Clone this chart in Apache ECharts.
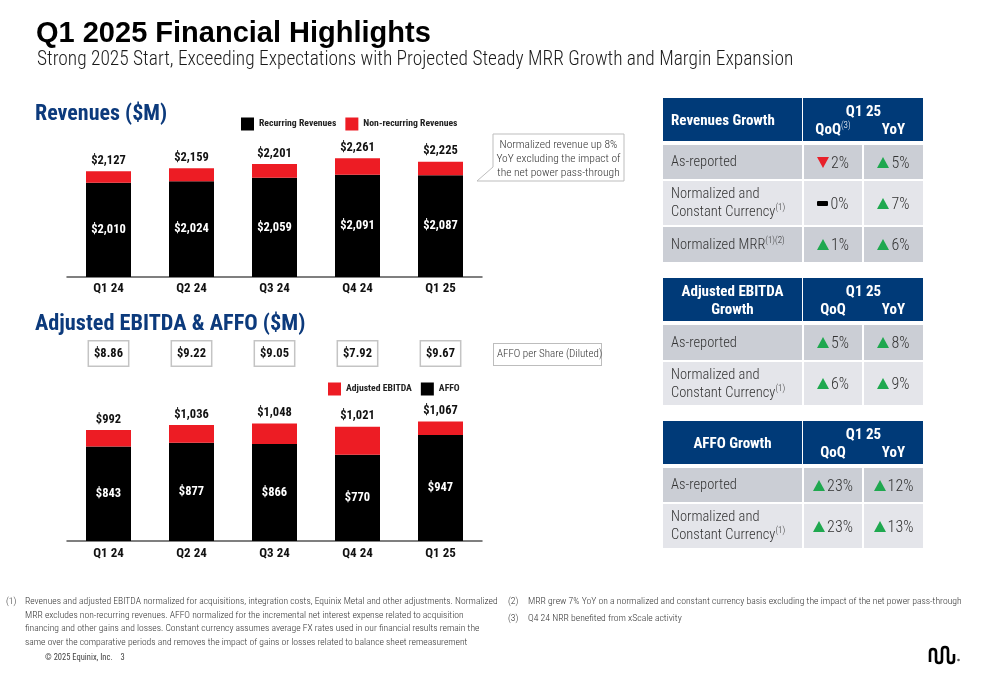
<!DOCTYPE html>
<html>
<head>
<meta charset="utf-8">
<script src="https://cdn.jsdelivr.net/npm/echarts@6/dist/echarts.min.js"></script>
<style>
  body { margin: 0; background: #fff; }
  .page { position: relative; width: 1000px; height: 685px; overflow: hidden; font-family: "Roboto Condensed", "DejaVu Sans Condensed", sans-serif; color: #333; }
  #chart { position: absolute; left: 0; top: 0; width: 1000px; height: 685px; }
  .txt { position: absolute; white-space: nowrap; }
  .title { left: 36px; top: 15px; font-family: "Liberation Sans", Arial, sans-serif; font-weight: bold; font-size: 29px; line-height: 34px; color: #000; }
  .subtitle { left: 37px; top: 48px; font-size: 19.4px; line-height: 22px; color: #1a1a1a; font-weight: 300; }
  .section { left: 35px; font-weight: bold; font-size: 22px; line-height: 26px; color: #0c3a7c; }
  .cell { position: absolute; box-sizing: border-box; }
  .head { background: #003a78; color: #fff; font-weight: bold; font-size: 15px; }
  .dark { background: #cbced5; }
  .light { background: #e4e5ea; }
  .lbl { font-size: 14.5px; line-height: 18px; color: #333; padding-left: 8px; display: flex; flex-direction: column; justify-content: center; font-weight: 300; }
  .val { font-size: 16px; color: #333; display: flex; align-items: center; justify-content: center; font-weight: 300; }
  sup { font-size: 9px; line-height: 0; vertical-align: 6px; }
  .up { display: inline-block; width: 0; height: 0; border-left: 6px solid transparent; border-right: 6px solid transparent; border-bottom: 11px solid #1fa84f; margin-right: 2px; }
  .down { display: inline-block; width: 0; height: 0; border-left: 6px solid transparent; border-right: 6px solid transparent; border-top: 11px solid #e8202a; margin-right: 2px; }
  .flat { display: inline-block; width: 11px; height: 5px; background: #000; margin-right: 2px; border-radius: 1px; }
  .note { font-size: 9.7px; line-height: 13.5px; color: #333; font-weight: 300; }
  .callout { position: absolute; left: 493px; top: 134px; width: 131px; height: 47px; font-size: 11.5px; line-height: 14px; text-align: center; color: #333; display: flex; align-items: center; justify-content: center; font-weight: 300; }
</style>
</head>
<body>
<div class="page" id="page">
  <div id="chart"></div>
  <div class="txt title">Q1 2025 Financial Highlights</div>
  <div class="txt subtitle">Strong 2025 Start, Exceeding Expectations with Projected Steady MRR Growth and Margin Expansion</div>
  <div class="txt section" style="top:100px">Revenues ($M)</div>
  <div class="txt section" style="top:309px;font-size:22.3px">Adjusted EBITDA &amp; AFFO ($M)</div>

  <svg style="position:absolute;left:0;top:0" width="1000" height="685">
    <path d="M493,134 H624 V181 H477 L493,167 Z" fill="#fff" stroke="#bdbdbd" stroke-width="1"/>
    <rect x="493.5" y="343.5" width="108" height="22" fill="#fff" stroke="#bdbdbd" stroke-width="1"/>
    <path d="M930,662 V652 Q930,649 933,649 Q936,649 936,652 V660 Q936,663 939,663 Q942,663 942,660 V650 Q942,647 945,647 Q948,647 948,650 V660 Q948,663 951,663 Q954,663 954,660 V654"
          fill="none" stroke="#000" stroke-width="2.6"/>
    <circle cx="958.5" cy="660" r="1.3" fill="#555"/>
  </svg>
  <div class="callout">Normalized revenue up 8%<br>YoY excluding the impact of<br>the net power pass-through</div>
  <div class="txt" style="left:497px;top:347px;font-size:11px;line-height:14px;color:#333;font-weight:300">AFFO per Share (Diluted)</div>

  <div class="txt note" style="left:6px;top:594px">(1)</div>
  <div class="txt note" style="left:25px;top:594px;font-size:9.6px">Revenues and adjusted EBITDA normalized for acquisitions, integration costs, Equinix Metal and other adjustments. Normalized<br>MRR excludes non-recurring revenues. AFFO normalized for the incremental net interest expense related to acquisition<br>financing and other gains and losses. Constant currency assumes average FX rates used in our financial results remain the<br>same over the comparative periods and removes the impact of gains or losses related to balance sheet remeasurement</div>
  <div class="txt note" style="left:508px;top:594px">(2)</div>
  <div class="txt note" style="left:528px;top:594px">MRR grew 7% YoY on a normalized and constant currency basis excluding the impact of the net power pass-through</div>
  <div class="txt note" style="left:508px;top:611px">(3)</div>
  <div class="txt note" style="left:528px;top:611px">Q4 24 NRR benefited from xScale activity</div>
  <div class="txt" style="left:45px;top:652px;font-size:8.5px;line-height:11px;color:#444">© 2025 Equinix, Inc.&nbsp;&nbsp;&nbsp;&nbsp;3</div>
</div>

<script>
// chart data
const categories = ['Q1 24', 'Q2 24', 'Q3 24', 'Q4 24', 'Q1 25'];
const revenueTotal = [2127, 2159, 2201, 2261, 2225];
const recurringRevenue = [2010, 2024, 2059, 2091, 2087];
const adjustedEbitda = [992, 1036, 1048, 1021, 1067];
const affo = [843, 877, 866, 770, 947];
const affoPerShare = ['$8.86', '$9.22', '$9.05', '$7.92', '$9.67'];

// growth tables
const revenueGrowthRows = ['As-reported', 'Normalized and|Constant Currency(1)', 'Normalized MRR (1)(2)'];
const revenueQoQ = ['-2%', '0%', '+1%'];
const revenueYoY = ['+5%', '+7%', '+6%'];
const ebitdaGrowthRows = ['As-reported', 'Normalized and|Constant Currency(1)'];
const ebitdaQoQ = ['+5%', '+6%'];
const ebitdaYoY = ['+8%', '+9%'];
const affoGrowthRows = ['As-reported', 'Normalized and|Constant Currency(1)'];
const affoQoQ = ['+23%', '+23%'];
const affoYoY = ['+12%', '+13%'];

const FONT = '"Roboto Condensed", "DejaVu Sans Condensed", sans-serif';
const RED = '#ed1c24';

const nonRecurring = revenueTotal.map((t, i) => t - recurringRevenue[i]);
const ebitdaAboveAffo = adjustedEbitda.map((t, i) => t - affo[i]);
const money = v => '$' + v.toLocaleString('en-US');

const chart = echarts.init(document.getElementById('chart'), null, { renderer: 'canvas' });

const catAxis = (grid, margin) => ({
  type: 'category', gridIndex: grid, data: categories,
  axisLine: { lineStyle: { color: '#555', width: 1.5 } },
  axisTick: { show: false },
  axisLabel: { fontFamily: FONT, fontWeight: 'bold', fontSize: 13, color: '#111', margin: margin }
});

const legendStyle = {
  icon: 'rect', itemWidth: 13, itemHeight: 13, itemGap: 9, padding: 0,
  textStyle: { fontFamily: FONT, fontWeight: 'bold', fontSize: 9.7, color: '#222' }
};

const labelFont = { fontFamily: FONT, fontWeight: 'bold', fontSize: 12.5 };

const option = {
  animation: false,
  textStyle: { fontFamily: FONT },
  grid: [
    { left: 67, top: 154.5, width: 415, height: 122.5 },
    { left: 67, top: 406.6, width: 415, height: 134.4 }
  ],
  legend: [
    Object.assign({ data: ['Recurring Revenues', 'Non-recurring Revenues'], left: 241, top: 117.5 }, legendStyle),
    Object.assign({ data: ['Adjusted EBITDA', 'AFFO'], left: 328, top: 382.5 }, legendStyle)
  ],
  xAxis: [
    catAxis(0, 5),
    catAxis(1, 6),
    {
      type: 'category', gridIndex: 1, position: 'top', data: affoPerShare,
      axisLine: { show: false }, axisTick: { show: false },
      axisLabel: Object.assign({
        color: '#111', margin: 41, lineHeight: 15,
        padding: [5, 5, 4, 5], borderColor: '#c4c4c4', borderWidth: 1.5, backgroundColor: '#fff'
      }, labelFont)
    }
  ],
  yAxis: [
    { type: 'value', gridIndex: 0, min: 1037, max: 2300, show: false },
    { type: 'value', gridIndex: 1, min: 0, max: 1200, show: false }
  ],
  series: [
    {
      name: 'Recurring Revenues', type: 'bar', stack: 'rev', xAxisIndex: 0, yAxisIndex: 0,
      barWidth: 45, data: recurringRevenue, itemStyle: { color: '#000' },
      label: Object.assign({ show: true, position: 'inside', color: '#fff', formatter: p => money(p.value) }, labelFont)
    },
    {
      name: 'Non-recurring Revenues', type: 'bar', stack: 'rev', xAxisIndex: 0, yAxisIndex: 0,
      barWidth: 45, data: nonRecurring, itemStyle: { color: RED },
      label: Object.assign({ show: true, position: 'top', distance: 4, color: '#111', formatter: p => money(revenueTotal[p.dataIndex]) }, labelFont)
    },
    {
      name: 'AFFO', type: 'bar', stack: 'eb', xAxisIndex: 1, yAxisIndex: 1,
      barWidth: 45, data: affo, itemStyle: { color: '#000' },
      label: Object.assign({ show: true, position: 'inside', color: '#fff', formatter: p => money(p.value) }, labelFont)
    },
    {
      name: 'Adjusted EBITDA', type: 'bar', stack: 'eb', xAxisIndex: 1, yAxisIndex: 1,
      barWidth: 45, data: ebitdaAboveAffo, itemStyle: { color: RED },
      label: Object.assign({ show: true, position: 'top', distance: 4, color: '#111', formatter: p => money(adjustedEbitda[p.dataIndex]) }, labelFont)
    }
  ]
};
chart.setOption(option);

// tables on the right, built from the arrays above
const page = document.getElementById('page');
function addCell(cls, x, y, w, h, html) {
  const d = document.createElement('div');
  d.className = 'cell ' + cls;
  d.style.left = x + 'px'; d.style.top = y + 'px';
  d.style.width = w + 'px'; d.style.height = h + 'px';
  d.innerHTML = html || '';
  page.appendChild(d);
  return d;
}
function supify(s) {
  return s.replace(/ ?\((\d)\)/g, m => '<sup>' + m.trim() + '</sup>');
}
function valueHtml(v) {
  const sign = v[0];
  const num = v.replace(/^[+-]/, '');
  const mark = sign === '+' ? '<span class="up"></span>' : sign === '-' ? '<span class="down"></span>' : '<span class="flat"></span>';
  return mark + num;
}
function drawTable(t) {
  const x0 = 663, xa = 804, xb = 864, x1 = 923;
  addCell('head', x0, t.top, x1 - x0, 43);
  const left = addCell('head', x0, t.top, 140, 43,
    '<div style="position:absolute;left:0;right:0;top:0;bottom:0;display:flex;align-items:center;' +
    (t.center ? 'justify-content:center;text-align:center;' : 'padding-left:8px;') +
    'line-height:18px">' + t.title + '</div>');
  left.style.borderRight = '1px solid #fff';
  addCell('head', xa, t.top + 4, x1 - xa, 18, '<div style="text-align:center;line-height:18px">Q1 25</div>');
  addCell('head', xa, t.top + 22, 58, 18, '<div style="text-align:center;line-height:18px">QoQ' + (t.qoqSup ? '<sup style="font-weight:300">' + t.qoqSup + '</sup>' : '') + '</div>');
  addCell('head', xb, t.top + 22, 59, 18, '<div style="text-align:center;line-height:18px">YoY</div>');
  let y = t.top + 47;
  t.rows.forEach((r, i) => {
    const rh = t.heights[i];
    const cls = i % 2 === 0 ? 'dark' : 'light';
    addCell(cls + ' lbl', x0, y, 139, rh, r.split('|').map(s => '<div>' + supify(s) + '</div>').join(''));
    addCell(cls + ' val', xa, y, 58, rh, valueHtml(t.qoq[i]));
    addCell(cls + ' val', xb, y, 59, rh, valueHtml(t.yoy[i]));
    y += rh + 2;
  });
}
drawTable({ top: 98, title: 'Revenues Growth', qoqSup: '(3)', rows: revenueGrowthRows, qoq: revenueQoQ, yoy: revenueYoY, heights: [34, 44, 35] });
drawTable({ top: 278, title: 'Adjusted EBITDA<br>Growth', center: true, rows: ebitdaGrowthRows, qoq: ebitdaQoQ, yoy: ebitdaYoY, heights: [35, 43] });
drawTable({ top: 421, title: 'AFFO Growth', center: true, rows: affoGrowthRows, qoq: affoQoQ, yoy: affoYoY, heights: [34, 44] });
</script>
</body>
</html>
